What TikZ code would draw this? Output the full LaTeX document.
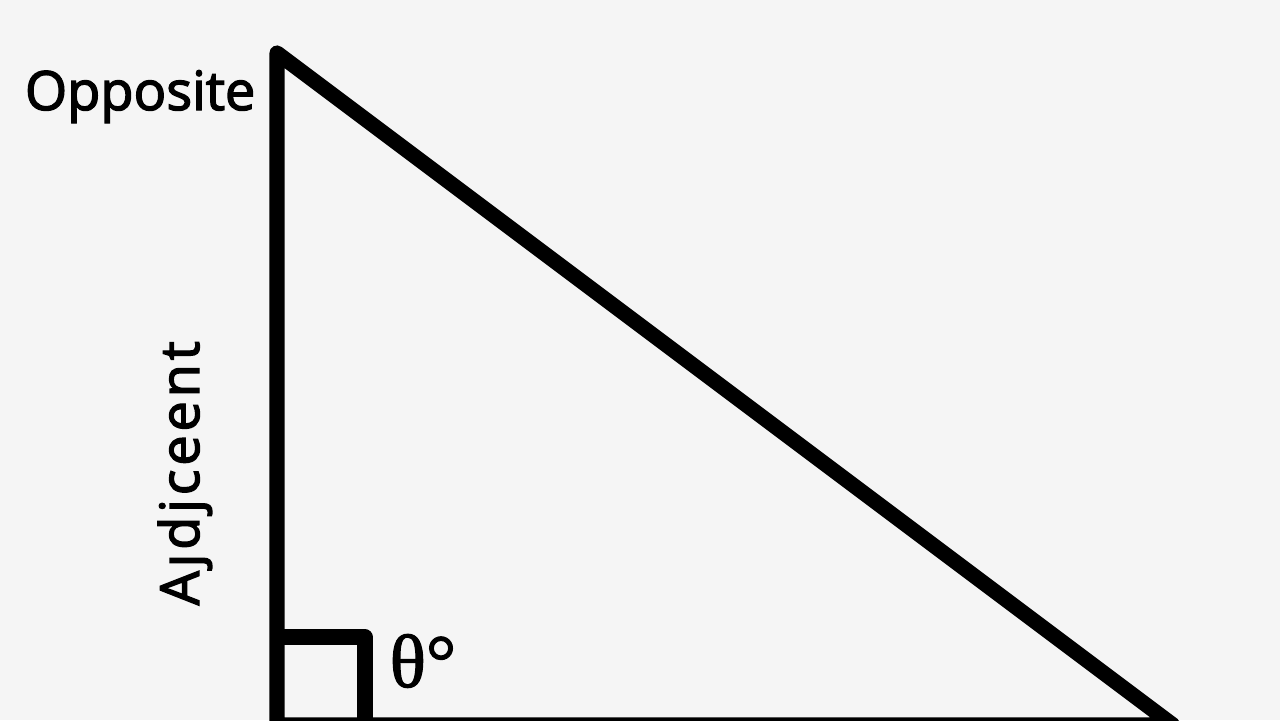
\documentclass[tikz,border=0pt]{standalone}
\usepackage{fontspec}
\setmainfont{Open Sans}
\newfontfamily\labelfont[FakeBold=2.5]{Open Sans}
\newfontfamily\greekserif[FakeBold=1.5]{Liberation Serif}
\definecolor{paper}{RGB}{245,245,245}
\tikzset{
  side/.style={line width=4.3pt, line join=round},
  sidelabel/.style={inner sep=0pt, font=\labelfont\fontsize{15.4}{18}\selectfont}
}
\begin{document}
\begin{tikzpicture}[x=0.01cm,y=-0.01cm]
        \fill[paper] (0,0) rectangle (1280,720);
        \useasboundingbox (0,0) rectangle (1280,720);
        \coordinate (apex) at (277,53);
        \coordinate (corner) at (277,725);
        \coordinate (foot) at (1173,725);
        \coordinate (sqtop) at (277,637);
        \coordinate (sqcorner) at (365,637);
        \coordinate (sqfoot) at (365,725);
        \draw[side] (apex) -- (corner) -- (foot) -- cycle;
        \draw[side] (sqtop) -- (sqcorner) -- (sqfoot);
        \node[sidelabel, anchor=base east] (opp) at (256,110) {Opposite};
        \node[sidelabel, anchor=base west, rotate=90, font=\labelfont\addfontfeature{LetterSpace=7}\fontsize{15.4}{18}\selectfont] (adj) at (199,606) {Aȷdjceent};
        \node[inner sep=0pt, anchor=base west, font=\greekserif\fontsize{21.5}{25}\selectfont] (theta) at (389,687) {θ°};
\end{tikzpicture}
\end{document}
